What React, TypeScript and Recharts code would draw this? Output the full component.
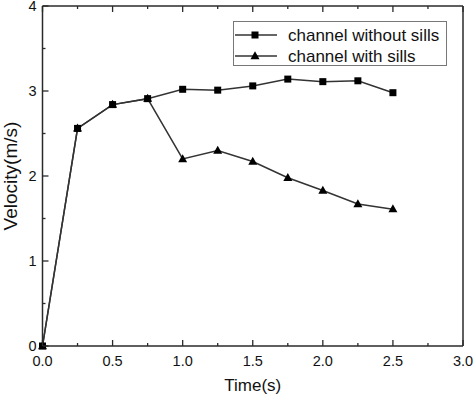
import React from 'react';
import { LineChart, Line, XAxis, YAxis, Legend } from 'recharts';

const times = [0, 0.25, 0.5, 0.75, 1.0, 1.25, 1.5, 1.75, 2.0, 2.25, 2.5];
const withoutSills = [0, 2.56, 2.84, 2.91, 3.02, 3.01, 3.06, 3.14, 3.11, 3.12, 2.98];
const withSills = [0, 2.56, 2.84, 2.91, 2.2, 2.3, 2.17, 1.98, 1.83, 1.67, 1.61];
const xTicks = [0, 0.25, 0.5, 0.75, 1, 1.25, 1.5, 1.75, 2, 2.25, 2.5, 2.75, 3];
const yTicks = [0, 0.5, 1, 1.5, 2, 2.5, 3, 3.5, 4];
const seriesNames = ['channel without sills', 'channel with sills'];

const data = times.map((t, i) => ({ t, a: withoutSills[i], b: withSills[i] }));

const FONT = '"Liberation Sans", Arial, sans-serif';
const AXIS = '#2a2a2a';
const LINE = '#333333';

const isMajorX = (v: number) => Math.abs(v * 2 - Math.round(v * 2)) < 1e-6;
const isMajorY = (v: number) => Math.abs(v - Math.round(v)) < 1e-6;

const BottomTick = (p: any) => {
  const { x, y, payload } = p;
  const v = payload.value as number;
  const major = isMajorX(v);
  return (
    <g>
      <line x1={x} x2={x} y1={y} y2={y - (major ? 6 : 3)} stroke={AXIS} strokeWidth={1.3} />
      {major && (
        <text x={x} y={y + 20} textAnchor="middle" fontSize={14.5} fontFamily={FONT} fill="#111">
          {v.toFixed(1)}
        </text>
      )}
    </g>
  );
};

const TopTick = (p: any) => {
  const { x, y, payload } = p;
  const major = isMajorX(payload.value);
  return <line x1={x} x2={x} y1={y} y2={y + (major ? 6 : 3)} stroke={AXIS} strokeWidth={1.3} />;
};

const LeftTick = (p: any) => {
  const { x, y, payload } = p;
  const v = payload.value as number;
  const major = isMajorY(v);
  return (
    <g>
      <line x1={x} x2={x + (major ? 6 : 3)} y1={y} y2={y} stroke={AXIS} strokeWidth={1.3} />
      {major && (
        <text x={x - 6} y={y} dy="0.36em" textAnchor="end" fontSize={14.5} fontFamily={FONT} fill="#111">
          {String(v)}
        </text>
      )}
    </g>
  );
};

const RightTick = (p: any) => {
  const { x, y, payload } = p;
  const major = isMajorY(payload.value);
  return <line x1={x} x2={x - (major ? 6 : 3)} y1={y} y2={y} stroke={AXIS} strokeWidth={1.3} />;
};

const SquareDot = (p: any) => {
  const { cx, cy, index } = p;
  if (cx == null || cy == null) return <g key={`s${index}`} />;
  return <rect key={`s${index}`} x={cx - 3.5} y={cy - 3.5} width={7} height={7} fill="#000" />;
};

const TriDot = (p: any) => {
  const { cx, cy, index } = p;
  if (cx == null || cy == null) return <g key={`t${index}`} />;
  const h = 8;
  const w = 9;
  return (
    <path
      key={`t${index}`}
      d={`M${cx},${cy - h * 0.6} L${cx + w / 2},${cy + h * 0.4} L${cx - w / 2},${cy + h * 0.4} Z`}
      fill="#000"
    />
  );
};

const LegendBox = () => (
  <svg width={214} height={45} style={{ display: 'block' }}>
    <rect x={0.5} y={0.5} width={213} height={44} fill="#fff" stroke="#777" strokeWidth={1} />
    <line x1={2} x2={44} y1={14} y2={14} stroke={LINE} strokeWidth={1.5} />
    <rect x={22 - 3.5} y={14 - 3.5} width={7} height={7} fill="#000" />
    <text x={55} y={19.5} fontSize={17} fontFamily={FONT} fill="#111">{seriesNames[0]}</text>
    <line x1={2} x2={44} y1={35} y2={35} stroke={LINE} strokeWidth={1.5} />
    <path d={`M22,${35 - 4.8} L26.5,${35 + 3.2} L17.5,${35 + 3.2} Z`} fill="#000" />
    <text x={55} y={40.5} fontSize={17} fontFamily={FONT} fill="#111">{seriesNames[1]}</text>
  </svg>
);

export default function App() {
  return (
    <div style={{ position: 'absolute', left: 0, top: 0, width: 474, height: 397, background: '#fff' }}>
      <LineChart width={474} height={397} data={data} margin={{ top: 0, right: 0, bottom: 0, left: 0 }}>
        <XAxis
          xAxisId="bottom"
          dataKey="t"
          type="number"
          domain={[0, 3]}
          ticks={xTicks}
          interval={0}
          height={51}
          tickSize={0}
          tickMargin={0}
          tick={<BottomTick />}
          tickLine={false}
          axisLine={{ stroke: AXIS, strokeWidth: 1.5 }}
          label={{ value: 'Time(s)', position: 'insideBottom', offset: 6, fontSize: 17, fontFamily: FONT, fill: '#111' }}
        />
        <XAxis
          xAxisId="top"
          orientation="top"
          dataKey="t"
          type="number"
          domain={[0, 3]}
          ticks={xTicks}
          interval={0}
          height={6}
          tickSize={0}
          tickMargin={0}
          tick={<TopTick />}
          tickLine={false}
          axisLine={{ stroke: AXIS, strokeWidth: 1.5 }}
        />
        <YAxis
          yAxisId="left"
          type="number"
          domain={[0, 4]}
          ticks={yTicks}
          interval={0}
          width={42.5}
          tickSize={0}
          tickMargin={0}
          tick={<LeftTick />}
          tickLine={false}
          axisLine={{ stroke: AXIS, strokeWidth: 1.5 }}
          label={{
            value: 'Velocity(m/s)',
            angle: -90,
            position: 'insideLeft',
            offset: 10,
            fontSize: 19,
            fontFamily: FONT,
            fill: '#111',
            style: { textAnchor: 'middle' },
          }}
        />
        <YAxis
          yAxisId="right"
          orientation="right"
          type="number"
          domain={[0, 4]}
          ticks={yTicks}
          interval={0}
          width={11}
          tickSize={0}
          tickMargin={0}
          tick={<RightTick />}
          tickLine={false}
          axisLine={{ stroke: AXIS, strokeWidth: 1.5 }}
        />
        <Legend
          layout="vertical"
          align="center"
          verticalAlign="middle"
          content={() => <LegendBox />}
          wrapperStyle={{ left: 233, top: 21, width: 214, height: 45 }}
        />
        <Line
          xAxisId="bottom"
          yAxisId="left"
          dataKey="a"
          name={seriesNames[0]}
          stroke={LINE}
          strokeWidth={1.5}
          dot={SquareDot}
          activeDot={false}
          isAnimationActive={false}
        />
        <Line
          xAxisId="bottom"
          yAxisId="left"
          dataKey="b"
          name={seriesNames[1]}
          stroke={LINE}
          strokeWidth={1.5}
          dot={TriDot}
          activeDot={false}
          isAnimationActive={false}
        />
      </LineChart>
    </div>
  );
}
